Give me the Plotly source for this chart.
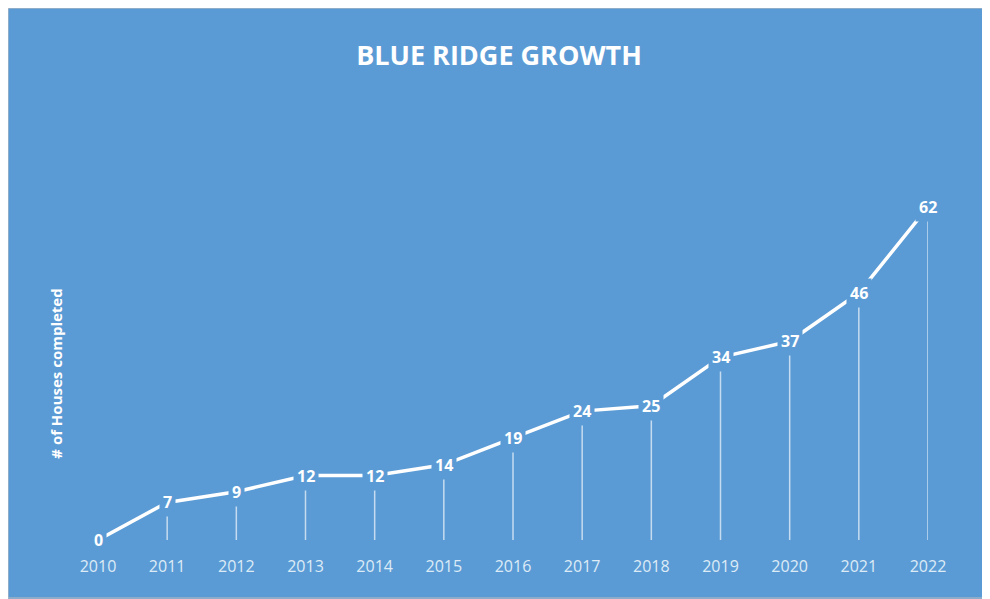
import plotly.graph_objects as go

years = [2010, 2011, 2012, 2013, 2014, 2015, 2016, 2017, 2018, 2019, 2020, 2021, 2022]
houses = [0, 7, 9, 12, 12, 14, 19, 24, 25, 34, 37, 46, 62]

bg = "#5B9BD5"
font = "Open Sans"

W, H = 982, 591
L, R, T, B = 90, 62, 199, 59
pw, ph = W - L - R, H - T - B

fig = go.Figure()

# drop lines from each point down to the axis
fig.add_trace(go.Scatter(
    x=years, y=houses, mode="markers",
    marker=dict(size=1, color="rgba(0,0,0,0)"),
    error_y=dict(type="data", symmetric=False, array=[0] * len(houses), arrayminus=houses,
                 width=0, thickness=1.5, color="rgba(255,255,255,0.65)"),
    hoverinfo="skip", showlegend=False,
))

fig.add_trace(go.Scatter(
    x=years, y=houses, mode="lines",
    line=dict(color="white", width=3.5),
    showlegend=False, cliponaxis=False,
))

for x, y in zip(years, houses):
    fig.add_annotation(x=x, y=y, text="<b>%d</b>" % y, showarrow=False,
                       font=dict(family=font, size=16, color="white"),
                       bgcolor=bg, borderpad=3)

fig.update_layout(
    width=W, height=H,
    paper_bgcolor=bg, plot_bgcolor=bg,
    margin=dict(l=L, r=R, t=T, b=B),
    title=dict(text="<b>BLUE RIDGE GROWTH</b>", x=0.5, xanchor="center", y=0.935,
               font=dict(family=font, size=27, color="white")),
    xaxis=dict(range=[2010, 2022], tickvals=years, showgrid=False, zeroline=False,
               showline=False, ticks="outside", ticklen=12, tickcolor="rgba(0,0,0,0)",
               tickfont=dict(family=font, size=16, color="#DDEBF7")),
    yaxis=dict(range=[0, 62], showgrid=False, zeroline=False, showticklabels=False,
               title=dict(text="<b># of Houses completed</b>", standoff=30,
                          font=dict(family=font, size=15, color="white"))),
    shapes=[dict(type="rect", xref="paper", yref="paper",
                 x0=-L / pw, x1=1 + (R - 1) / pw, y0=-(B - 1) / ph, y1=1 + T / ph,
                 line=dict(color="#BFBFBF", width=1))],
)
fig.update_yaxes(automargin=False)

fig.write_html("out.html")
